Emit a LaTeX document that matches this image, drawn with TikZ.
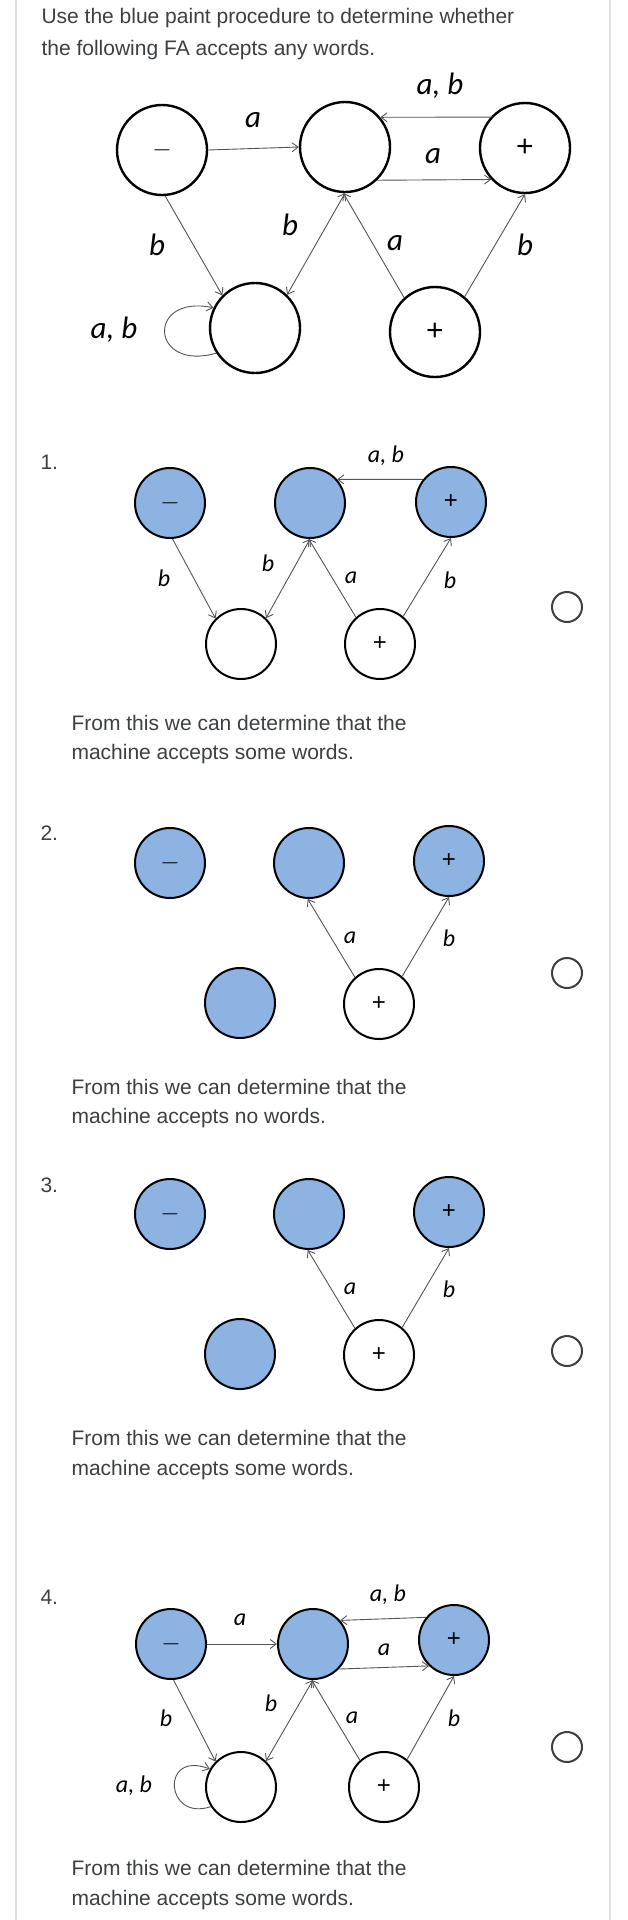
\documentclass[tikz,border=0pt]{standalone}
\usepackage{fontspec}
\setmainfont{Liberation Sans}
\newfontfamily\lblfont{Carlito}
\usetikzlibrary{arrows.meta}
\definecolor{paint}{HTML}{8DB3E2}
\definecolor{txt}{HTML}{3C4043}
\definecolor{edge}{HTML}{555555}
\begin{document}
\begin{tikzpicture}[x=1pt,y=-1pt,
  big/.style={circle,draw=black,line width=2.4pt,minimum size=90pt,inner sep=0pt,font=\fontsize{30}{30}\selectfont},
  st/.style={circle,draw=black,line width=2pt,minimum size=70pt,inner sep=0pt,font=\fontsize{24}{24}\selectfont},
  bl/.style={fill=paint},
  tr/.style={draw=edge,line width=0.9pt,-{Straight Barb[length=6pt,width=9pt]}},
  btr/.style={draw=edge,line width=0.9pt,{Straight Barb[length=6pt,width=9pt]}-{Straight Barb[length=6pt,width=9pt]}},
  lb/.style={font=\fontsize{31}{31}\lblfont\itshape},
  sl/.style={font=\fontsize{24}{24}\lblfont\itshape},
  body/.style={text=txt,anchor=west,font=\fontsize{21}{21}\selectfont},
  radio/.style={circle,draw=txt,line width=2pt,minimum size=30pt,inner sep=0pt}]
\useasboundingbox (0,0) rectangle (627,1920);
\fill[white] (0,0) rectangle (627,1920);
\draw[black!12,line width=1.2pt] (16,0) -- (16,1920) (610,0) -- (610,1920);
% header
\node[body] (h1) at (38,18) {Use the blue paint procedure to determine whether};
\node[body] (h2) at (38,50) {the following FA accepts any words.};
% top FA
\node[big] (m) at (162,150) {$-$};
\node[big] (q) at (345,147) {};
\node[big] (r) at (525,148) {+};
\node[big] (bl) at (255,328) {};
\node[big] (bp) at (435,332) {+};
\draw[tr] (m.east) -- (q.west);
\draw[tr] (r.138) -- (q.40);
\draw[tr] (q.-46) -- (r.223);
\draw[tr] (m.274) -- (bl.135);
\draw[btr] (q.270) -- (bl.46);
\draw[tr] (bp.132) -- (q.268);
\draw[tr] (bp.50) -- (r.270);
\draw[tr] (bl.213) .. controls (150,372) and (146,294) .. (bl.154);
\node[lb] (t1) at (253,120) {a};
\node[lb] (t2) at (440,86) {a, b};
\node[lb] (t3) at (433,156) {a};
\node[lb] (t4) at (157,245) {b};
\node[lb] (t5) at (290,225) {b};
\node[lb] (t6) at (395,243) {a};
\node[lb] (t7) at (525,245) {b};
\node[lb] (t8) at (114,330) {a, b};
% option 1
\node[body] (n1) at (37,462) {1.};
\node[st,bl] (am) at (170,503) {$-$};
\node[st,bl] (aq) at (310,503) {};
\node[st,bl] (ar) at (451,502) {+};
\node[st] (abl) at (241,644) {};
\node[st] (abp) at (380,644) {+};
\draw[tr] (ar.141) -- (aq.41);
\draw[tr] (am.274) -- (abl.135);
\draw[btr] (aq.270) -- (abl.46);
\draw[tr] (abp.132) -- (aq.268);
\draw[tr] (abp.50) -- (ar.270);
\node[sl] (a1) at (386,456) {a, b};
\node[sl] (a2) at (164,578) {b};
\node[sl] (a3) at (268,563) {b};
\node[sl] (a4) at (351,578) {a};
\node[sl] (a5) at (450,580) {b};
\node[radio] (r1) at (567,607) {};
\node[body] (x1) at (68,723) {From this we can determine that the};
\node[body] (y1) at (68,754) {machine accepts some words.};
% option 2
\node[body] (n2) at (37,833) {2.};
\node[st,bl] (bm) at (170,863) {$-$};
\node[st,bl] (bq) at (309,863) {};
\node[st,bl] (br) at (449,861) {+};
\node[st,bl] (bbl) at (240,1003) {};
\node[st] (bbp) at (379,1004) {+};
\draw[tr] (bbp.132) -- (bq.268);
\draw[tr] (bbp.50) -- (br.270);
\node[sl] (b1) at (350,938) {a};
\node[sl] (b2) at (449,938) {b};
\node[radio] (r2) at (567,973) {};
\node[body] (x2) at (68,1087) {From this we can determine that the};
\node[body] (y2) at (68,1118) {machine accepts no words.};
% option 3
\node[body] (n3) at (37,1185) {3.};
\node[st,bl] (cm) at (170,1214) {$-$};
\node[st,bl] (cq) at (309,1214) {};
\node[st,bl] (cr) at (449,1212) {+};
\node[st,bl] (cbl) at (240,1354) {};
\node[st] (cbp) at (379,1355) {+};
\draw[tr] (cbp.132) -- (cq.268);
\draw[tr] (cbp.50) -- (cr.270);
\node[sl] (c1) at (350,1289) {a};
\node[sl] (c2) at (449,1289) {b};
\node[radio] (r3) at (567,1351) {};
\node[body] (x3) at (68,1438) {From this we can determine that the};
\node[body] (y3) at (68,1470) {machine accepts some words.};
% option 4
\node[body] (n4) at (37,1597) {4.};
\node[st,bl] (dm) at (171,1644) {$-$};
\node[st,bl] (dq) at (313,1644) {};
\node[st,bl] (dr) at (454,1640) {+};
\node[st] (dbl) at (241,1787) {};
\node[st] (dbp) at (384,1787) {+};
\draw[tr] (dm.east) -- (dq.west);
\draw[tr] (dr.141) -- (dq.41);
\draw[tr] (dq.-44) -- (dr.226);
\draw[tr] (dm.274) -- (dbl.135);
\draw[btr] (dq.270) -- (dbl.46);
\draw[tr] (dbp.132) -- (dq.268);
\draw[tr] (dbp.50) -- (dr.270);
\draw[tr] (dbl.213) .. controls (165,1822) and (160,1750) .. (dbl.150);
\node[sl] (d1) at (388,1595) {a, b};
\node[sl] (d2) at (240,1620) {a};
\node[sl] (d3) at (384,1650) {a};
\node[sl] (d4) at (166,1718) {b};
\node[sl] (d5) at (271,1703) {b};
\node[sl] (d6) at (352,1718) {a};
\node[sl] (d7) at (454,1718) {b};
\node[sl] (d8) at (134,1786) {a, b};
\node[radio] (r4) at (567,1747) {};
\node[body] (x4) at (68,1868) {From this we can determine that the};
\node[body] (y4) at (68,1900) {machine accepts some words.};
\end{tikzpicture}
\end{document}
